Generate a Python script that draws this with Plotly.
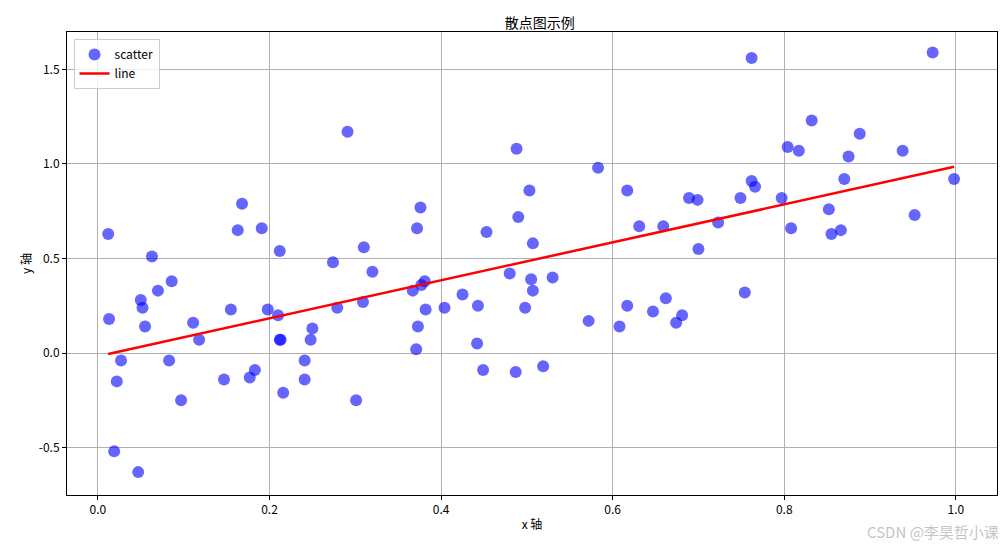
import plotly.graph_objects as go

x_vals = [0.012,0.013,0.027,0.022,0.019,0.047,0.050,0.052,0.055,0.063,0.070,0.083,0.086,0.097,0.111,0.118,
          0.147,0.155,0.163,0.168,0.177,0.183,0.191,0.198,0.210,0.212,0.212,0.213,0.216,0.241,0.241,0.248,0.250,
          0.274,0.279,0.291,0.301,0.309,0.310,0.320,0.367,0.371,0.372,0.373,0.376,0.377,0.381,0.382,0.404,
          0.425,0.442,0.443,0.449,0.453,0.480,0.488,0.487,0.490,0.498,0.503,0.505,0.507,0.507,0.519,0.530,
          0.572,0.583,0.608,0.617,0.617,0.631,0.647,0.659,0.662,0.674,0.681,0.689,0.699,0.700,0.723,0.749,
          0.754,0.762,0.762,0.766,0.797,0.804,0.808,0.817,0.832,0.852,0.855,0.866,0.870,0.875,0.888,0.938,
          0.952,0.973,0.998]
y_vals = [0.63,0.18,-0.04,-0.15,-0.52,-0.63,0.28,0.24,0.14,0.51,0.33,-0.04,0.38,-0.25,0.16,0.07,
          -0.14,0.23,0.65,0.79,-0.13,-0.09,0.66,0.23,0.20,0.54,0.07,0.07,-0.21,-0.04,-0.14,0.07,0.13,
          0.48,0.24,1.17,-0.25,0.27,0.56,0.43,0.33,0.02,0.66,0.14,0.77,0.36,0.38,0.23,0.24,
          0.31,0.05,0.25,-0.09,0.64,0.42,1.08,-0.10,0.72,0.24,0.86,0.39,0.33,0.58,-0.07,0.40,
          0.17,0.98,0.14,0.86,0.25,0.67,0.22,0.67,0.29,0.16,0.20,0.82,0.81,0.55,0.69,0.82,
          0.32,1.56,0.91,0.88,0.82,1.09,0.66,1.07,1.23,0.76,0.63,0.65,0.92,1.04,1.16,1.07,
          0.73,1.59,0.92]
line_x = [0.012, 0.998]
line_y = [-0.005, 0.985]
x_ticks = [0.0, 0.2, 0.4, 0.6, 0.8, 1.0]
y_ticks = [-0.5, 0.0, 0.5, 1.0, 1.5]

FONT = "Noto Sans CJK SC"
fig = go.Figure()
fig.add_trace(go.Scatter(x=x_vals, y=y_vals, mode="markers", name="scatter",
                         marker=dict(color="rgba(0,0,255,0.6)", size=12, line=dict(width=0))))
fig.add_trace(go.Scatter(x=line_x, y=line_y, mode="lines", name="line",
                         line=dict(color="red", width=2.5)))
axis = dict(showgrid=True, gridcolor="#b0b0b0", gridwidth=1, zeroline=False,
            showline=True, linecolor="black", linewidth=1, mirror=True,
            ticks="outside", ticklen=4, tickcolor="black", automargin=False,
            tickfont=dict(family=FONT, size=12, color="black"))
fig.update_xaxes(**axis, range=[-0.036, 1.048], tickvals=x_ticks,
                 ticktext=[f"{v:.1f}" for v in x_ticks],
                 title=dict(text="x 轴", font=dict(family=FONT, size=12, color="black"), standoff=4))
fig.update_yaxes(**axis, range=[-0.751, 1.698], tickvals=y_ticks,
                 ticktext=[f"{v:.1f}" for v in y_ticks],
                 title=dict(text="y 轴", font=dict(family=FONT, size=12, color="black"), standoff=4))
fig.update_layout(
    width=994, height=536, plot_bgcolor="white", paper_bgcolor="white",
    margin=dict(l=59, r=5, t=24, b=49, autoexpand=False),
    title=dict(text="散点图示例", x=0.535, xanchor="center", y=0.972, yanchor="middle",
               font=dict(family=FONT, size=14, color="black")),
    legend=dict(x=0.007, y=0.985, xanchor="left", yanchor="top", bgcolor="rgba(255,255,255,0.8)",
                bordercolor="#cccccc", borderwidth=1, font=dict(family=FONT, size=12, color="black")),
    font=dict(family=FONT),
    annotations=[dict(text="CSDN @李昊哲小课", xref="paper", yref="paper", x=1.004, y=-0.078,
                      xanchor="right", yanchor="middle", showarrow=False,
                      font=dict(family=FONT, size=15, color="rgba(180,180,180,0.8)"))],
)
fig.write_html("out.html")
